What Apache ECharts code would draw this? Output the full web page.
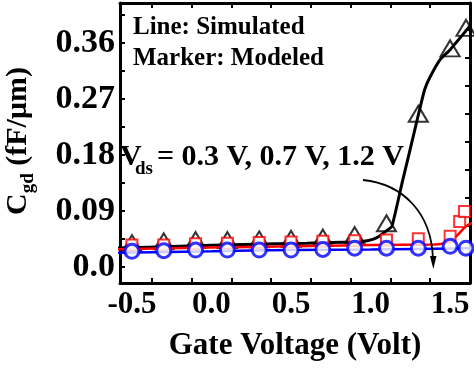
<!DOCTYPE html>
<html><head><meta charset="utf-8">
<script src="https://cdn.jsdelivr.net/npm/echarts@6/dist/echarts.min.js"></script>
<style>html,body{margin:0;padding:0;background:#fff}#c{width:474px;height:368px}</style>
</head><body><div id="c"></div>
<script>
// ---- data ----
var xModel = [-0.5,-0.3,-0.1,0.1,0.3,0.5,0.7,0.9,1.1,1.3,1.5,1.6];
var triModel = [0.038,0.041,0.043,0.043,0.044,0.045,0.047,0.051,0.070,0.246,0.351,0.384];
var xSquare = [-0.5,-0.3,-0.1,0.1,0.3,0.5,0.7,0.9,1.1,1.3,1.5,1.56,1.59];
var sqModel = [0.035,0.035,0.037,0.038,0.039,0.040,0.041,0.042,0.043,0.045,0.049,0.073,0.089];
var circModel = [0.025,0.026,0.027,0.027,0.027,0.027,0.028,0.030,0.030,0.030,0.033,0.030];
var xSimBlack = [-0.6,-0.2,0.2,0.6,0.9,0.98,1.04,1.1,1.134,1.2,1.25,1.3,1.34,1.374,1.437,1.5,1.605,1.65];
var simBlack = [0.030,0.033,0.036,0.038,0.040,0.042,0.047,0.058,0.065,0.137,0.190,0.244,0.285,0.305,0.333,0.349,0.381,0.395];
var xSimRed = [-0.6,0,0.5,1.0,1.4,1.45,1.5,1.55,1.6,1.65];
var simRed = [0.028,0.031,0.033,0.035,0.036,0.037,0.041,0.052,0.065,0.072];
var xSimBlue = [-0.6,0,0.5,1.0,1.65];
var simBlue = [0.0225,0.025,0.027,0.028,0.030];
var xLabels = [-0.5,0,0.5,1.0,1.5];
var yLabels = [0,0.09,0.18,0.27,0.36];
var yLabelText = ['0.0','0.09','0.18','0.27','0.36'];
var xTicksBottom = [-0.375,-0.125,0.125,0.375,0.625,0.875,1.125,1.375];
var xTicksTop = [-0.375,-0.125,0.125,0.375,0.625,0.875,1.125,1.375];
var yTicksLeft = [0,0.045,0.09,0.135,0.18,0.225,0.27,0.315,0.36,0.405];
var yTicksRight = [0.021,0.066,0.111,0.156,0.201,0.246,0.291,0.336,0.381];

function zip(a,b){return a.map(function(v,i){return [v,b[i]];});}
var FONT = '"Liberation Serif","Times New Roman",serif';
var XMIN=-0.575, XMAX=1.625, YMIN=-0.026, YMAX=0.424;
var axisLineStyle = {show:true, onZero:false, lineStyle:{color:'#000', width:3}};

var chart = echarts.init(document.getElementById('c'), null, {renderer:'canvas'});
chart.setOption({
  animation:false,
  grid:{left:120, right:4, top:3, bottom:85},
  xAxis:[{
    type:'value', min:XMIN, max:XMAX, position:'bottom',
    axisLine:axisLineStyle, splitLine:{show:false},
    axisTick:{show:true, inside:true, length:5, lineStyle:{width:2,color:'#000'}, customValues:xTicksBottom},
    axisLabel:{customValues:xLabels, margin:6, color:'#000', fontFamily:FONT, fontWeight:'bold', fontSize:31,
      formatter:function(v){return v.toFixed(1);}},
    name:'Gate Voltage (Volt)', nameLocation:'middle', nameGap:47,
    nameTextStyle:{color:'#000', fontFamily:FONT, fontWeight:'bold', fontSize:31}
  },{
    type:'value', min:XMIN, max:XMAX, position:'top',
    axisLine:axisLineStyle, splitLine:{show:false},
    axisTick:{show:true, inside:true, length:5, lineStyle:{width:2,color:'#000'}, customValues:xTicksTop},
    axisLabel:{show:false}
  }],
  yAxis:[{
    type:'value', min:YMIN, max:YMAX, position:'left',
    axisLine:axisLineStyle, splitLine:{show:false},
    axisTick:{show:true, inside:true, length:5, lineStyle:{width:2,color:'#000'}, customValues:yTicksLeft},
    axisLabel:{customValues:yLabels, margin:5, color:'#000', fontFamily:FONT, fontWeight:'bold', fontSize:34,
      formatter:function(v){var i=yLabels.indexOf(v); return i>=0?yLabelText[i]:'';}}
  },{
    type:'value', min:YMIN, max:YMAX, position:'right',
    axisLine:axisLineStyle, splitLine:{show:false},
    axisTick:{show:true, inside:true, length:5, lineStyle:{width:2,color:'#000'}, customValues:yTicksRight},
    axisLabel:{show:false}
  }],
  series:[
    {type:'line', data:zip(xSimBlack,simBlack), showSymbol:false, symbol:'none', smooth:0.15,
      lineStyle:{color:'#000', width:3}, z:2},
    {type:'scatter', data:zip(xModel,triModel), symbol:'triangle', symbolSize:[19,16],
      itemStyle:{color:'rgba(0,0,0,0)', borderColor:'#000', borderWidth:2}, z:3},
    {type:'line', data:zip(xSimRed,simRed), showSymbol:false, symbol:'none', smooth:0.3,
      lineStyle:{color:'#ff0000', width:2.5}, z:4},
    {type:'scatter', data:zip(xSquare,sqModel), symbol:'rect', symbolSize:11,
      itemStyle:{color:'#fff', borderColor:'#ff0000', borderWidth:2}, z:5},
    {type:'line', data:zip(xSimBlue,simBlue), showSymbol:false, symbol:'none', smooth:0.3,
      lineStyle:{color:'#0000ff', width:2.5}, z:6},
    {type:'scatter', data:zip(xModel,circModel), symbol:'circle', symbolSize:14,
      itemStyle:{color:'#fff', borderColor:'#0000ff', borderWidth:3}, z:7}
  ],
  graphic:[
    {type:'text', x:133, y:28, z:10, style:{text:'Line: Simulated', fill:'#000', font:'bold 25px '+FONT, verticalAlign:'middle', align:'left'}},
    {type:'text', x:133, y:59, z:10, style:{text:'Marker: Modeled', fill:'#000', font:'bold 25px '+FONT, verticalAlign:'middle', align:'left'}},
    {type:'text', x:120, y:157, z:10, style:{text:'V', fill:'#000', font:'bold 30px '+FONT, verticalAlign:'middle', align:'left'}},
    {type:'text', x:135, y:169, z:10, style:{text:'ds', fill:'#000', font:'bold 19px '+FONT, verticalAlign:'middle', align:'left'}},
    {type:'text', x:157, y:157, z:10, style:{text:'= 0.3 V, 0.7 V, 1.2 V', fill:'#000', font:'bold 30px '+FONT, verticalAlign:'middle', align:'left'}},
    {type:'group', x:18, y:141, rotation:Math.PI/2, z:10, children:[
      {type:'text', x:0, y:0, style:{
        text:'{c|C}{s|gd}{c| (fF/μm)}', align:'center', verticalAlign:'middle',
        rich:{c:{font:'bold 30px '+FONT, fill:'#000', lineHeight:30, verticalAlign:'top'},
              s:{font:'bold 19px '+FONT, fill:'#000', lineHeight:19, verticalAlign:'top', padding:[16,0,0,0]}}}}
    ]},
    {type:'bezierCurve', z:10, shape:{x1:363,y1:180,cpx1:402,cpy1:184,cpx2:432,cpy2:212,x2:433,y2:260},
      style:{stroke:'#000', lineWidth:1.8, fill:null}},
    {type:'polygon', z:10, shape:{points:[[430,256],[436.5,256],[433.3,269]]}, style:{fill:'#000'}}
  ]
});
</script></body></html>
